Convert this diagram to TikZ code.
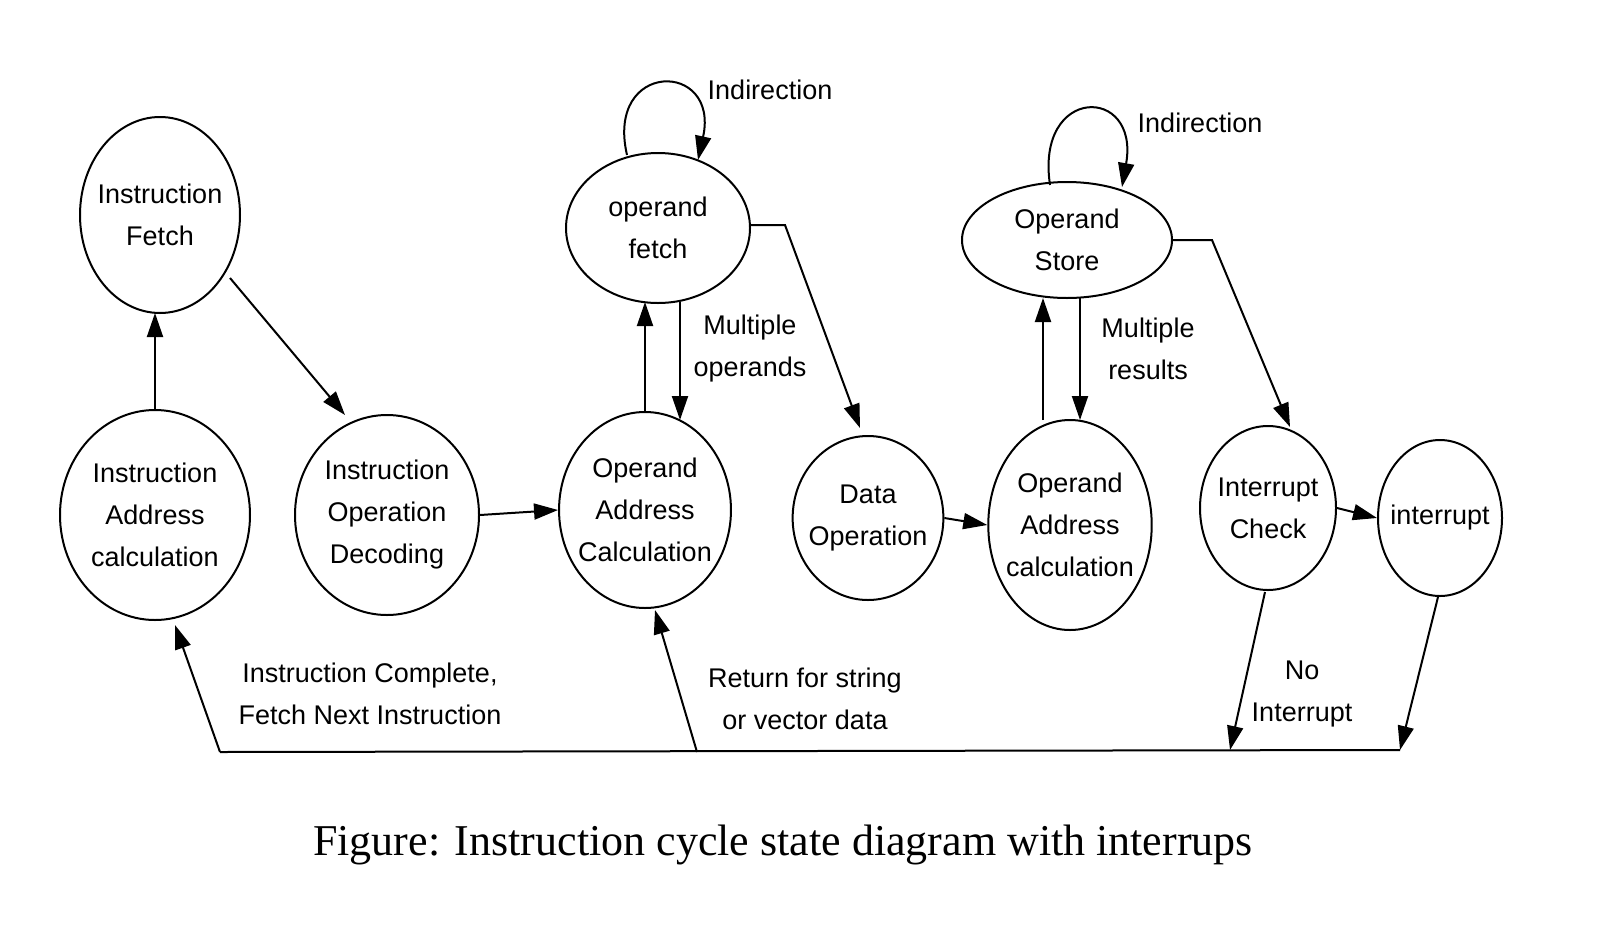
\documentclass[tikz,border=0pt]{standalone}
\usepackage{fontspec}
\setmainfont{Liberation Sans}
\newfontfamily\capfont{Liberation Serif}
\usetikzlibrary{shapes.geometric,arrows.meta}
\begin{document}
\begin{tikzpicture}[x=1pt,y=-1pt,
 st/.style={ellipse,draw,line width=2pt,inner sep=-6pt,align=center,font=\fontsize{27}{42}\selectfont},
 ar/.style={line width=2pt,-{Triangle[length=24pt,width=16pt]}},
 ln/.style={line width=2pt},
 lb/.style={font=\fontsize{27}{42}\selectfont,align=center}]
\useasboundingbox (0,0) rectangle (1600,940);
\node[st,minimum width=160pt,minimum height=196pt] (if) at (160,215) {Instruction\\Fetch};
\node[st,minimum width=190pt,minimum height=210pt] (iac) at (155,515) {Instruction\\Address\\calculation};
\node[st,minimum width=184pt,minimum height=200pt] (iod) at (387,515) {Instruction\\Operation\\Decoding};
\node[st,minimum width=164pt,minimum height=196pt] (oac) at (645,510) {Operand\\Address\\Calculation};
\node[st,minimum width=184pt,minimum height=150pt] (of) at (658,228) {operand\\fetch};
\node[st,minimum width=144pt,minimum height=164pt] (do) at (868,518) {Data\\Operation};
\node[st,minimum width=160pt,minimum height=210pt] (oac2) at (1070,525) {Operand\\Address\\calculation};
\node[st,minimum width=210pt,minimum height=116pt] (os) at (1067,240) {Operand\\Store};
\node[st,minimum width=136pt,minimum height=164pt] (ic) at (1268,508) {Interrupt\\Check};
\node[st,minimum width=124pt,minimum height=156pt] (int) at (1440,518) {interrupt};
\coordinate (b1) at (220,752);
\coordinate (b2) at (697,752);
\coordinate (b3) at (1230,750);
\coordinate (b4) at (1400,750);
\draw[ln] (b1) -- (b4);
\draw[ar] (b1) -- (175,625);
\draw[ar] (b2) -- (655,610);
\draw[ar] (1265,592) -- (b3);
\draw[ar] (1438,597) -- (b4);
\draw[ar] (155,410) -- (155,313);
\draw[ar] (230,278) -- (345,415);
\draw[ar] (iod.east) -- (oac.west);
\draw[ar] (645,412) -- (645,302);
\draw[ar] (680,302) -- (680,420);
\draw[ar] (750,225) -- (785,225) -- (860,428);
\draw[ar] (do.east) -- (oac2.west);
\draw[ar] (1043,420) -- (1043,298);
\draw[ar] (1080,298) -- (1080,420);
\draw[ar] (1172,240) -- (1212,240) -- (1290,427);
\draw[ar] (ic.east) -- (int.west);
\draw[ar] (627,155) .. controls (605,60) and (720,60) .. (698,160);
\draw[ar] (1050,185) .. controls (1035,85) and (1140,85) .. (1122,187);
\node[lb] at (770,90) {Indirection};
\node[lb] at (1200,123) {Indirection};
\node[lb] at (750,349) {Multiple\\operands};
\node[lb] at (1148,349) {Multiple\\results};
\node[lb] at (370,694) {Instruction Complete,\\Fetch Next Instruction};
\node[lb] at (805,699) {Return for string\\or vector data};
\node[lb] at (1302,694) {No\\Interrupt};
\node[font=\capfont\fontsize{44}{50}\selectfont] at (783,845) {Figure: Instruction cycle state diagram with interrups};
\end{tikzpicture}
\end{document}
